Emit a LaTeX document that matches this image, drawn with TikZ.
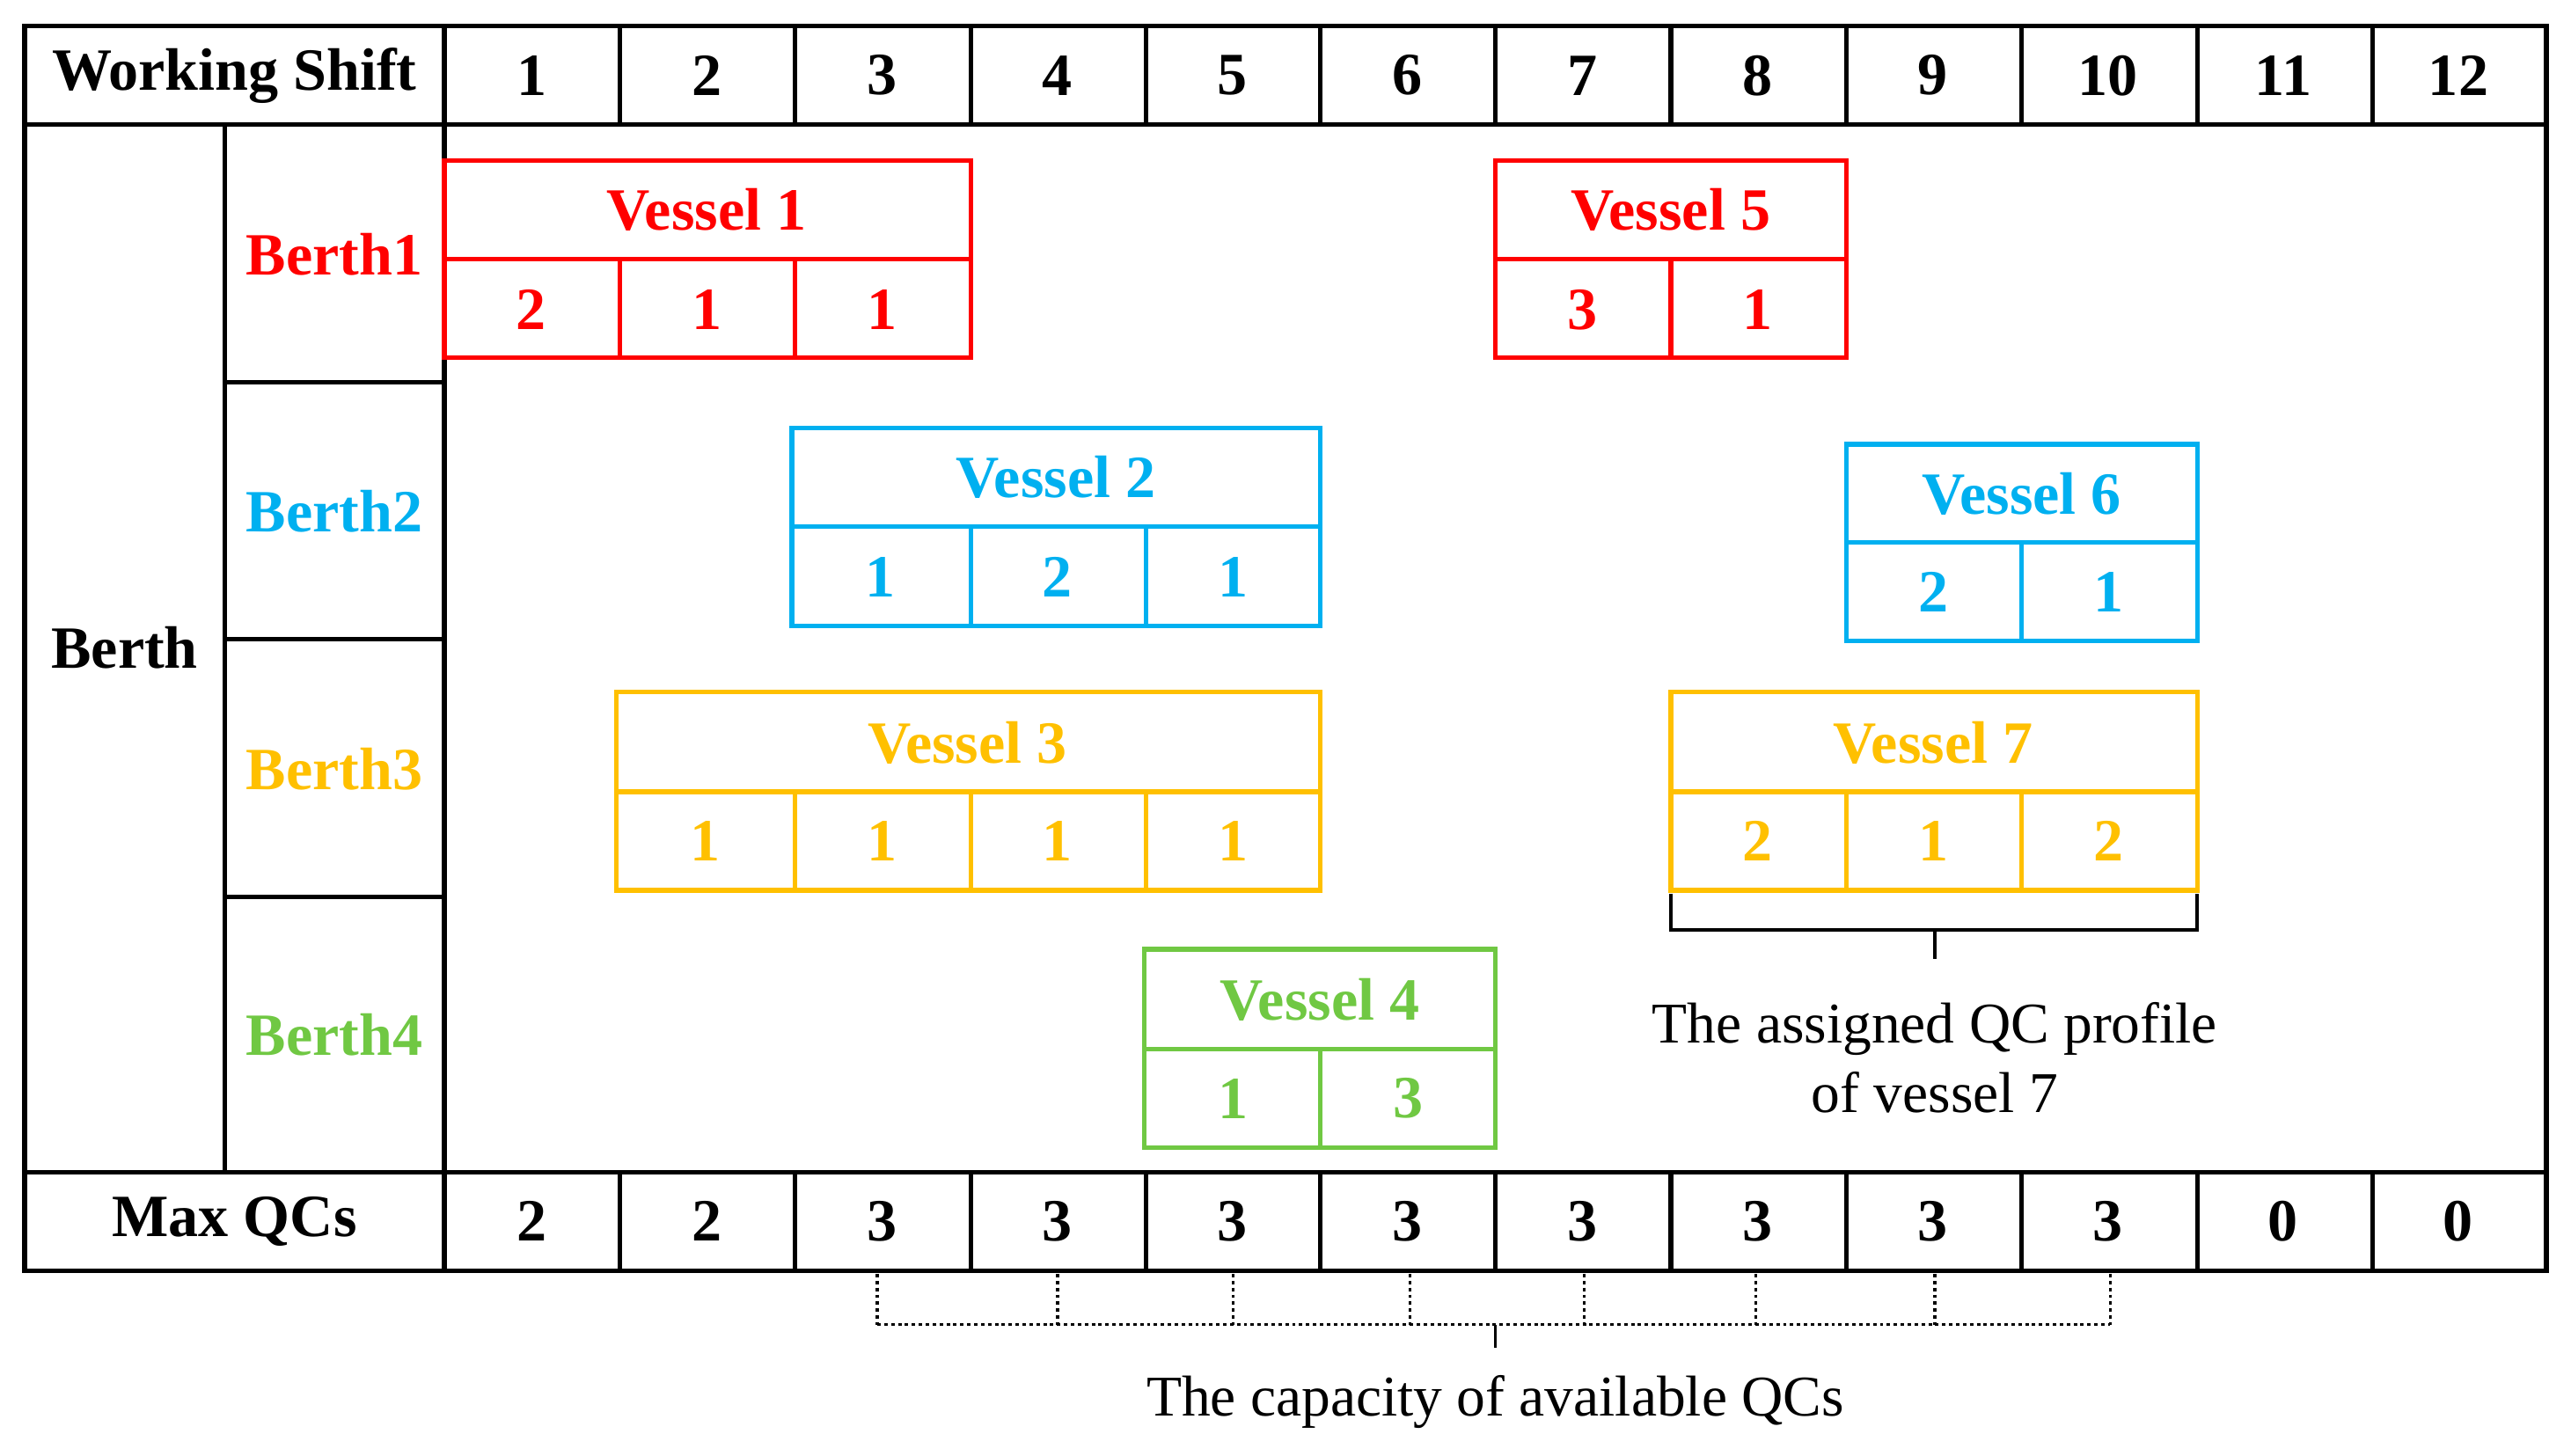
\documentclass[tikz,border=0pt]{standalone}
\usepackage{fontspec}
\setmainfont{Liberation Serif}
\begin{document}
\begin{tikzpicture}[x=0.05cm,y=-0.05cm,
  tl/.style={line width=4pt,black},
  lbl/.style={font=\fontsize{52}{60}\selectfont\bfseries},
  note/.style={font=\fontsize{50}{60}\selectfont},
  vbox/.style={line width=4pt}]
\definecolor{vred}{HTML}{FF0000}
\definecolor{vblue}{HTML}{00B0F0}
\definecolor{vyel}{HTML}{FFC000}
\definecolor{vgreen}{HTML}{70C843}
\useasboundingbox (0,0) rectangle (1568,888);
% table
\draw[tl] (15,16) rectangle (1553,775);
\draw[tl] (15,76) -- (1553,76);
\draw[tl] (15,715) -- (1553,715);
\draw[tl] (271,16) -- (271,775);
\draw[tl] (137,76) -- (137,715);
\foreach \y in {233,390,547} \draw[tl] (137,\y) -- (271,\y);
\foreach \x in {378,485,592,699,805,912,1019,1126,1233,1340,1447}{
  \draw[tl] (\x,16) -- (\x,76); \draw[tl] (\x,715) -- (\x,775);}
\node[lbl] (ws) at (143,46) {Working Shift};
\node[lbl] (mq) at (143,745) {Max QCs};
\node[lbl] (be) at (76,395) {Berth};
\foreach \n/\v [count=\i from 0] in {1/2,2/2,3/3,4/3,5/3,6/3,7/3,8/3,9/3,10/3,11/0,12/0}{
  \node[lbl] (h\i) at (324.5+106.8*\i,46) {\n};
  \node[lbl] (m\i) at (324.5+106.8*\i,745) {\v};}
\node[lbl,text=vred] (b1) at (204,155) {Berth1};
\node[lbl,text=vblue] (b2) at (204,312) {Berth2};
\node[lbl,text=vyel] (b3) at (204,469) {Berth3};
\node[lbl,text=vgreen] (b4) at (204,631) {Berth4};
% vessel macro-like drawing
\newcommand{\vessel}[7]{% x0,xstep-list,ytop,color,name,values(list of x/val)
}
% Vessel 1
\begin{scope}[vbox,draw=vred,text=vred]
\draw (271,98) rectangle (592,218); \draw (271,158) -- (592,158);
\draw (378,158) -- (378,218); \draw (485,158) -- (485,218);
\node[lbl] (v1) at (431,128) {Vessel 1};
\node[lbl] at (324,189) {2}; \node[lbl] at (431,189) {1}; \node[lbl] at (538,189) {1};
\draw (912,98) rectangle (1126,218); \draw (912,158) -- (1126,158);
\draw (1019,158) -- (1019,218);
\node[lbl] (v5) at (1019,128) {Vessel 5};
\node[lbl] at (965,189) {3}; \node[lbl] at (1072,189) {1};
\end{scope}
\begin{scope}[vbox,draw=vblue,text=vblue]
\draw (483,261) rectangle (805,382); \draw (483,321) -- (805,321);
\draw (592,321) -- (592,382); \draw (699,321) -- (699,382);
\node[lbl] (v2) at (644,291) {Vessel 2};
\node[lbl] at (537,352) {1}; \node[lbl] at (645,352) {2}; \node[lbl] at (752,352) {1};
\draw (1126,271) rectangle (1340,391); \draw (1126,331) -- (1340,331);
\draw (1233,331) -- (1233,391);
\node[lbl] (v6) at (1233,301) {Vessel 6};
\node[lbl] at (1179,361) {2}; \node[lbl] at (1286,361) {1};
\end{scope}
\begin{scope}[vbox,draw=vyel,text=vyel]
\draw (376,422) rectangle (805,543); \draw (376,483) -- (805,483);
\draw (485,483) -- (485,543); \draw (592,483) -- (592,543); \draw (699,483) -- (699,543);
\node[lbl] (v3) at (590,453) {Vessel 3};
\node[lbl] at (430,513) {1}; \node[lbl] at (538,513) {1}; \node[lbl] at (645,513) {1}; \node[lbl] at (752,513) {1};
\draw (1019,422) rectangle (1340,543); \draw (1019,483) -- (1340,483);
\draw (1126,483) -- (1126,543); \draw (1233,483) -- (1233,543);
\node[lbl] (v7) at (1179,453) {Vessel 7};
\node[lbl] at (1072,513) {2}; \node[lbl] at (1179,513) {1}; \node[lbl] at (1286,513) {2};
\end{scope}
\begin{scope}[vbox,draw=vgreen,text=vgreen]
\draw (698,579) rectangle (912,700); \draw (698,640) -- (912,640);
\draw (805,640) -- (805,700);
\node[lbl] (v4) at (805,610) {Vessel 4};
\node[lbl] at (752,670) {1}; \node[lbl] at (859,670) {3};
\end{scope}
% brace under vessel 7
\draw[line width=3pt] (1019,545) -- (1019,567) -- (1340,567) -- (1340,545);
\coordinate (bt) at (1180,567);
\draw[line width=3pt] (bt) -- ++(0,18);
\node[note,align=center] (qp) at (1180,645) {The assigned QC profile\\of vessel 7};
% dashed bracket
\foreach \x in {535,645,752,860,966,1071,1180,1287}
  \draw[line width=2.5pt,dashed] (\x,777) -- (\x,808);
\draw[line width=2.5pt,dashed] (535,808) -- (1287,808);
\coordinate (dt) at (912,808);
\draw[line width=2.5pt] (dt) -- ++(0,14);
\node[note] (cap) at (912,855) {The capacity of available QCs};
\end{tikzpicture}
\end{document}
